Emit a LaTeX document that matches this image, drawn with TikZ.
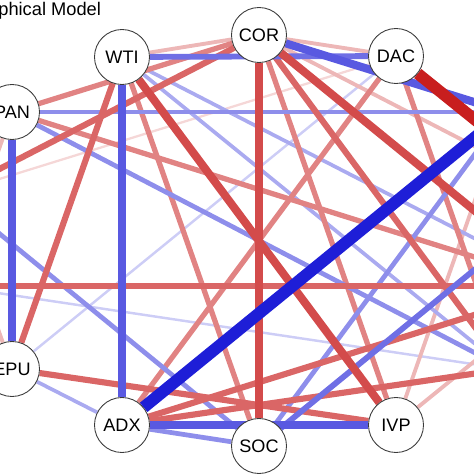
\documentclass[tikz,border=0pt]{standalone}
\usepackage{fontspec}
\setsansfont{Liberation Sans}
\usetikzlibrary{backgrounds}
\definecolor{gmred}{RGB}{200,30,30}
\definecolor{gmblue}{RGB}{30,30,215}
\definecolor{gmline}{HTML}{3A3A3A}
\tikzset{
  var/.style={draw=gmline,line width=0.5pt,circle,fill=white,minimum size=11mm,
              inner sep=0pt,font=\sffamily\fontsize{10.3}{12}\selectfont},
  title/.style={font=\sffamily\fontsize{10.4}{12}\selectfont,inner sep=0pt},
  pos1/.style={draw=gmred!18!white,line width=1.3pt},
  pos2/.style={draw=gmred!32!white,line width=2.2pt},
  pos3/.style={draw=gmred!55!white,line width=3pt},
  pos4/.style={draw=gmred!68!white,line width=3.5pt},
  pos5/.style={draw=gmred!80!white,line width=4.6pt},
  pos6/.style={draw=gmred,line width=6.6pt},
  neg1/.style={draw=gmblue!22!white,line width=1.4pt},
  neg2/.style={draw=gmblue!38!white,line width=2.1pt},
  neg3/.style={draw=gmblue!50!white,line width=2.7pt},
  neg4/.style={draw=gmblue!64!white,line width=3.3pt},
  neg5/.style={draw=gmblue!74!white,line width=4.6pt},
  neg6/.style={draw=gmblue,line width=6.8pt},
}

\begin{document}
\begin{tikzpicture}[x=0.2mm,y=-0.2mm]
  \useasboundingbox (0,0) rectangle (474,474);
  \clip (0,0) rectangle (474,474);

  \node[title,anchor=base west] (title) at (-2,15) {phical Model};

  % variables on the ring (the ones off the right and left edge are cut away)
  \node[var] (cor) at (259,35) {COR};
  \node[var] (dac) at (396,56) {DAC};
  \coordinate (ra) at (506,112);
  \coordinate (rb) at (567,194);
  \coordinate (rc) at (567,286);
  \coordinate (rd) at (506,369);
  \node[var] (ivp) at (396,425) {IVP};
  \node[var] (soc) at (259,446) {SOC};
  \node[var] (adx) at (122,425) {ADX};
  \node[var] (epu) at (12,369) {EPU};
  \coordinate (lc) at (-49,286);
  \coordinate (lb) at (-49,194);
  \node[var] (pan) at (12,112) {PAN};
  \node[var] (wti) at (122,57) {WTI};

  \begin{scope}[on background layer]
    % weak edges first, strong ones on top
    \draw[pos1] (lb) -- (dac);
    \draw[neg1] (epu) -- (dac);
    \draw[neg1] (lc) -- (rd);

    \draw[pos2] (wti) -- (cor);
    \draw[pos2] (cor) -- (dac);
    \draw[pos2] (cor) -- (rb);
    \draw[pos2] (ivp) -- (ra);
    \draw[pos2] (ivp) -- (rc);
    \draw[pos2] (lc) -- (pan);
    \draw[pos2] (lb) -- (epu);
    \draw[neg2] (wti) -- (rc);
    \draw[neg2] (wti) -- (rd);
    \draw[neg2] (epu) -- (adx);

    \draw[pos3] (pan) -- (cor);
    \draw[pos3] (wti) -- (soc);
    \draw[pos3] (cor) -- (ivp);
    \draw[pos3] (dac) -- (adx);
    \draw[pos3] (dac) -- (rd);
    \draw[pos3] (pan) -- (rc);
    \draw[neg3] (soc) -- (ra);
    \draw[neg3] (pan) -- (rd);
    \draw[neg3] (pan) -- (ra);
    \draw[neg3] (adx) -- (soc);
    \draw[neg3] (lb) -- (soc);

    \draw[pos4] (epu) -- (ivp);
    \draw[pos4] (lc) -- (rc);
    \draw[pos4] (wti) -- (epu);
    \draw[pos4] (lb) -- (cor);
    \draw[pos4] (adx) -- (rc);
    \draw[pos4] (adx) -- (rd);
    \draw[pos4] (cor) -- (rd);
    \draw[neg4] (wti) -- (dac);
    \draw[neg4] (soc) -- (rb);

    \draw[pos5] (wti) -- (ivp);
    \draw[pos5] (cor) -- (soc);
    \draw[pos5] (cor) -- (rc);
    \draw[neg5] (cor) -- (ra);
    \draw[neg5] (pan) -- (epu);
    \draw[neg5] (wti) -- (adx);
    \draw[neg5] (adx) -- (ivp);

    \draw[pos6] (dac) -- (rb);
    \draw[neg6] (adx) -- (ra);
  \end{scope}
\end{tikzpicture}
\end{document}
